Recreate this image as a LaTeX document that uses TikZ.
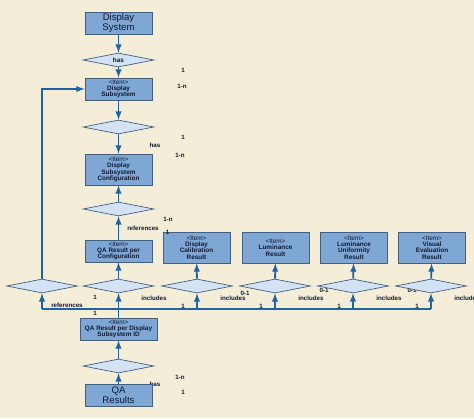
\documentclass[tikz,border=0pt]{standalone}
\usepackage{fontspec}
\setmainfont{Liberation Sans}
\usetikzlibrary{shapes.geometric}
\definecolor{bgbeige}{HTML}{F4EDD8}
\definecolor{boxblue}{HTML}{7EA7D5}
\definecolor{boxedge}{HTML}{45607C}
\definecolor{diafill}{HTML}{D3E3F5}
\definecolor{linkblue}{HTML}{1E63A6}
\definecolor{inktext}{HTML}{111A33}
\begin{document}
\begin{tikzpicture}
[x=1pt,y=-1pt,
 block/.style ={rectangle, draw=boxedge, fill=boxblue, line width=0.9pt, minimum width=67pt, minimum height=22pt, inner sep=0pt, align=center, text=inktext, font=\fontsize{9.6}{9.4}\selectfont},
 item/.style ={rectangle, draw=boxedge, fill=boxblue, line width=0.9pt, minimum width=67pt, minimum height=22pt, inner sep=0pt, align=center, text=inktext, font=\fontsize{6.4}{6.4}\selectfont\bfseries},
 rel/.style ={diamond, draw=boxedge, fill=diafill, line width=0.7pt, aspect=5, minimum width=71pt, minimum height=14pt, inner sep=0pt, text=inktext, font=\fontsize{6.4}{6}\selectfont\bfseries},
 line/.style ={draw=linkblue, line width=1.8pt},
 tag/.style ={text=inktext, inner sep=0pt, font=\fontsize{6.2}{6}\selectfont\bfseries}]
\clip (0,0) rectangle (474,418);
\fill[bgbeige] (0,0) rectangle (474,418);
% labels
\path (183,70) node[tag] (t1) {1}
      (182,86) node[tag] (t2) {1-n}
      (183,137) node[tag] (t3) {1}
      (155,145) node[tag] (t4) {has}
      (180,155) node[tag] (t5) {1-n}
      (168,219) node[tag] (t6) {1-n}
      (143,228) node[tag] (t7) {references}
      (95,297) node[tag] (t8) {1}
      (67,305) node[tag] (t9) {references}
      (95,313) node[tag] (t10) {1}
      (154,298) node[tag] (t11) {includes}
      (183,306) node[tag] (t12) {1}
      (233,298) node[tag] (t13) {includes}
      (245,293) node[tag] (t14) {0-1}
      (261,306) node[tag] (t15) {1}
      (311,298) node[tag] (t16) {includes}
      (324,290) node[tag] (t17) {0-1}
      (339,306) node[tag] (t18) {1}
      (389,298) node[tag] (t19) {includes}
      (412,290) node[tag] (t20) {0-1}
      (417,306) node[tag] (t21) {1}
      (467,298) node[tag] (t22) {includes}
      (180,377) node[tag] (t23) {1-n}
      (155,384) node[tag] (t24) {has}
      (183,392) node[tag] (t25) {1};
% main column
\path (118.5,23) node[block] (DS) {Display\\System}
      (118.5,60) node[rel] (hasDS) {has}
      (118.5,89) node[item] (Sub) {{\mdseries<Item>}\\Display\\Subsystem}
      (118.5,127) node[rel] (hasSub) {}
      (118.5,169.5) node[item, minimum height=31pt] (Cfg) {{\mdseries<Item>}\\Display\\Subsystem\\Configuration}
      (118.5,209) node[rel] (refCfg) {}
      (118.5,251) node[item] (QAC) {{\mdseries<Item>}\\QA Result per\\Configuration}
      (118.5,329) node[item, minimum width=77pt] (QAID) {{\mdseries<Item>}\\QA Result per Display\\Subsystem ID}
      (118.5,366) node[rel] (hasQA) {}
      (118.5,395) node[block] (QAR) {QA\\Results};
% result row
\path (42,286) node[rel] (refSub) {}
      (118.5,286) node[rel] (incQAC) {}
      (197,286) node[rel] (incCal) {}
      (275,286) node[rel] (incLum) {}
      (353,286) node[rel] (incUni) {}
      (431,286) node[rel] (incVis) {}
      (196.5,247.5) node[item, minimum height=31pt] (Cal) {{\mdseries<Item>}\\Display\\Calibration\\Result}
      (275.5,247.5) node[item, minimum height=31pt] (Lum) {{\mdseries<Item>}\\Luminance\\Result}
      (354,247.5) node[item, minimum height=31pt] (Uni) {{\mdseries<Item>}\\Luminance\\Uniformity\\Result}
      (432,247.5) node[item, minimum height=31pt] (Vis) {{\mdseries<Item>}\\Visual\\Evaluation\\Result};
\node[tag, anchor=north west] (t26) at ([shift={(3,-2)}]Cal.north west) {1};
\path (42,309) coordinate (busL) (431,309) coordinate (busR) (118.5,309) coordinate (bus);
% connectors
\draw[line,-latex] (DS) -- (hasDS);
\draw[line,-latex] (hasDS) -- (Sub);
\draw[line,-latex] (Sub) -- (hasSub);
\draw[line,-latex] (hasSub) -- (Cfg);
\draw[line,-latex] (QAC) -- (refCfg);
\draw[line,-latex] (refCfg) -- (Cfg);
\draw[line,-latex] (incQAC) -- (QAC);
\draw[line,-latex] (QAID) -- (incQAC);
\draw[line] (busL) -- (busR);
\draw[line,-latex] (busL) -- (refSub.south);
\draw[line,-latex] (incCal.south |- bus) -- (incCal.south);
\draw[line,-latex] (incLum.south |- bus) -- (incLum.south);
\draw[line,-latex] (incUni.south |- bus) -- (incUni.south);
\draw[line,-latex] (busR) -- (incVis.south);
\draw[line,-latex] (refSub.north) |- (Sub.west);
\draw[line,-latex] (incCal) -- (Cal);
\draw[line,-latex] (incLum) -- (Lum);
\draw[line,-latex] (incUni) -- (Uni);
\draw[line,-latex] (incVis) -- (Vis);
\draw[line,-latex] (QAR) -- (hasQA);
\draw[line,-latex] (hasQA) -- (QAID);
\end{tikzpicture}
\end{document}
